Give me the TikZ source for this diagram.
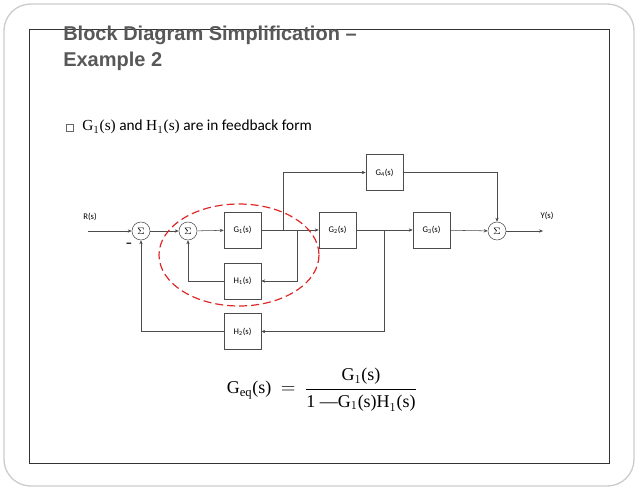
\documentclass[tikz,border=0pt]{standalone}
\usepackage{amsmath}
\usepackage{fontspec}
\setmainfont{Carlito}
\newfontfamily\titlefont{Liberation Sans}
\newfontfamily\mfont{Liberation Serif}
\usetikzlibrary{arrows.meta}
\definecolor{titlegrey}{RGB}{88,88,88}
\definecolor{dashred}{RGB}{222,40,40}
\tikzset{
  blk/.style={draw=black!70, minimum width=27.75pt, minimum height=27pt, inner sep=0pt, font=\fontsize{6.5}{7}\selectfont},
  sumj/.style={draw=black!70, circle, minimum size=13.5pt, inner sep=0pt, font=\fontsize{7}{8}\selectfont},
  sig/.style={draw=black!70, -{Stealth[length=3pt,width=2.5pt]}},
}
\newcommand{\tf}[1]{\text{\mfont #1}}
\begin{document}
\begin{tikzpicture}[x=0.75pt,y=-0.75pt]
        % Slide frame
        \useasboundingbox (0,0) rectangle (638,493);
        \draw[black!20, line width=1pt, rounded corners=20pt] (4,4) rectangle (634,486);
        \draw[black!80] (29,29) rectangle (609,463);

        % Title and bullet
        \node[anchor=north west, align=left, text=titlegrey, font=\titlefont\bfseries\fontsize{15}{19}\selectfont, inner sep=0pt] (title) at (63,26) {Block Diagram Simplification –\\Example 2};
        \node[draw=black!60, minimum size=5pt, inner sep=0pt] (bullet) at (70,128) {};
        \node[anchor=west, font=\fontsize{11.5}{13}\selectfont, inner sep=0pt] (txt) at (82,127) {$\tf{G}_1\tf{(s)}$ and $\tf{H}_1\tf{(s)}$ are in feedback form};

        % Blocks and junctions
        \node[sumj] (s1) at (141,231) {$\Sigma$};
        \node[sumj] (s2) at (188,231) {$\Sigma$};
        \node[blk] (g1) at (242.5,230) {G\textsubscript{1}(s)};
        \node[blk] (g2) at (337.5,230) {G\textsubscript{2}(s)};
        \node[blk] (g3) at (431.5,230) {G\textsubscript{3}(s)};
        \node[blk] (g4) at (384.5,172.5) {G\textsubscript{4}(s)};
        \node[blk] (h1) at (242.5,281) {H\textsubscript{1}(s)};
        \node[blk] (h2) at (242.5,331.5) {H\textsubscript{2}(s)};
        \node[sumj] (s3) at (497,231) {$\Sigma$};
        \node[font=\fontsize{6.5}{8}\selectfont] (rin) at (90,217) {R(s)};
        \node[font=\fontsize{6.5}{8}\selectfont] (yout) at (547,216) {Y(s)};
        \node[font=\bfseries\fontsize{10}{10}\selectfont] (minus) at (129,245) {–};
        \coordinate (rs) at (88,231);
        \coordinate (ye) at (543,231);
        \coordinate (b1) at (283,231);
        \coordinate (b2) at (297,231);
        \coordinate (b3) at (384,231);

        % Forward path
        \draw[sig] (rs) -- (s1);
        \draw[sig] (s1) -- (s2);
        \draw[sig] (s2) -- (g1);
        \draw[sig] (g1) -- (g2);
        \draw[sig] (g2) -- (g3);
        \draw[sig] (g3) -- (s3);
        \draw[sig] (s3) -- (ye);

        % Feed-forward and feedback loops
        \draw[sig] (b1) |- (g4);
        \draw[sig] (g4) -| (s3);
        \draw[sig] (b2) |- (h1);
        \draw[sig] (h1) -| (s2);
        \draw[sig] (b3) |- (h2);
        \draw[sig] (h2) -| (s1);

        % Highlight of the inner loop
        \draw[dashred, dashed, dash pattern=on 6pt off 3pt, line width=0.9pt] (239,255) ellipse [x radius=80, y radius=51];

        % Result
        \node[font=\fontsize{13.5}{16}\selectfont] (geq) at (322,390) {$\tf{G}_{\tf{eq}}\tf{(s)}\ =\ \dfrac{\tf{G}_1\tf{(s)}}{\tf{1 —G}_1\tf{(s)H}_1\tf{(s)}}$};
\end{tikzpicture}
\end{document}
